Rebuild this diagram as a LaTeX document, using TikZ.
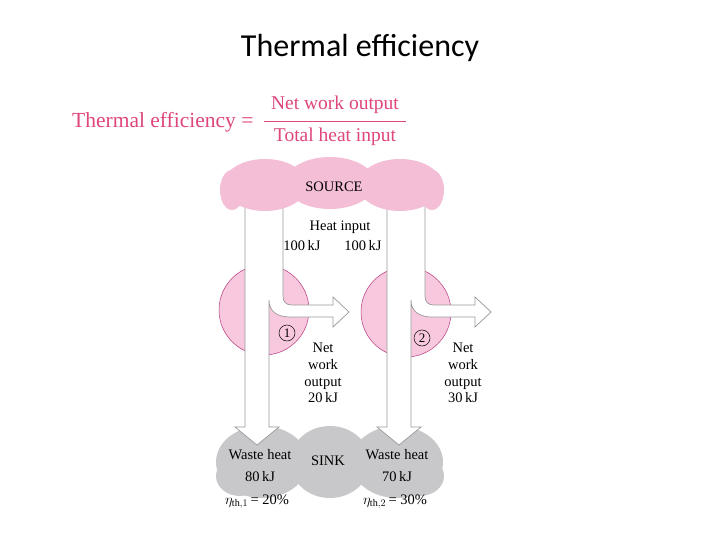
\documentclass[tikz,border=0pt]{standalone}
\usepackage{fontspec}
\setmainfont{Liberation Serif}
\newfontfamily\titlefont{Carlito}
\begin{document}
\begin{tikzpicture}[x=1pt,y=-1pt,
  lbl/.style={font=\fontsize{14.5}{16}\selectfont, inner sep=0pt, align=center},
  flow/.style={fill=white, draw=gray!80, line width=0.7pt, line join=miter},
  engine/.style={fill=enpink, draw=magenta!70!black, line width=0.5pt},
  num/.style={circle, draw=black, line width=0.5pt, inner sep=1pt, minimum size=16pt, font=\fontsize{13}{14}\selectfont}]
\definecolor{srcpink}{RGB}{245,190,215}
\definecolor{enpink}{RGB}{248,200,222}
\definecolor{sinkgray}{RGB}{200,200,202}
\definecolor{fpink}{RGB}{222,70,125}
\useasboundingbox (0,0) rectangle (720,540);
\fill[white] (0,0) rectangle (720,540);
\node[font=\titlefont\fontsize{32}{36}\selectfont] (title) at (360,48) {Thermal efficiency};
\node[font=\fontsize{21.5}{22}\selectfont, text=fpink, anchor=west, inner sep=0pt] (lhs) at (72,122) {Thermal efficiency =};
\node[font=\fontsize{19.5}{22}\selectfont, text=fpink, inner sep=0pt] (num) at (335,105) {Net work output};
\node[font=\fontsize{19.5}{22}\selectfont, text=fpink, inner sep=0pt] (den) at (335,137) {Total heat input};
\draw[fpink, line width=0.6pt] (264,121) -- (406,121);
% sink cloud
\begin{scope}[fill=sinkgray]
\fill (262,462) ellipse (46 and 36);
\fill (330,462) ellipse (40 and 36);
\fill (397,462) ellipse (46 and 36);
\fill (240,476) ellipse (24 and 20);
\fill (420,476) ellipse (24 and 20);
\end{scope}
% engines
\draw[engine] (264,310) circle (45);
\draw[engine] (406,312) circle (45);
% flows
\foreach \dx/\nm in {0/fa,142/fb}{
\draw[flow, xshift=\dx] (245,205) -- (245,427) -- (235,427) -- (257,445) -- (279,427) -- (269,427) -- (269,300)
  .. controls (269,312) and (278,317) .. (290,317) -- (333,317) -- (333,327) -- (349,312) -- (333,297) -- (333,305) -- (292,305)
  .. controls (286,305) and (283,302) .. (283,296) -- (283,205) -- cycle;
}
% source cloud
\begin{scope}[fill=srcpink]
\fill (265,185) ellipse (42 and 26);
\fill (330,183) ellipse (45 and 26);
\fill (400,185) ellipse (42 and 26);
\fill (232,190) ellipse (12 and 20);
\fill (432,190) ellipse (12 and 20);
\end{scope}
\node[lbl] (src) at (334,187) {SOURCE};
\node[lbl] (hi) at (340,227) {Heat input};
\node[lbl] (h1) at (302,246) {100\,kJ};
\node[lbl] (h2) at (363,246) {100\,kJ};
\node[num] (n1) at (287,333) {1};
\node[num] (n2) at (422,338) {2};
\node[lbl, font=\fontsize{14.5}{16.8}\selectfont] (w1) at (323,373) {Net\\work\\output\\20\,kJ};
\node[lbl, font=\fontsize{14.5}{16.8}\selectfont] (w2) at (463,373) {Net\\work\\output\\30\,kJ};
\node[lbl] (wh1) at (260,455) {Waste heat};
\node[lbl] (k1) at (260,477) {80\,kJ};
\node[lbl] (sink) at (328,461) {SINK};
\node[lbl] (wh2) at (397,455) {Waste heat};
\node[lbl] (k2) at (397,477) {70\,kJ};
\node[lbl] (e1) at (257,502) {$\eta_{\mathrm{th},1}$\,= 20\%};
\node[lbl] (e2) at (395,502) {$\eta_{\mathrm{th},2}$\,= 30\%};
\end{tikzpicture}
\end{document}
